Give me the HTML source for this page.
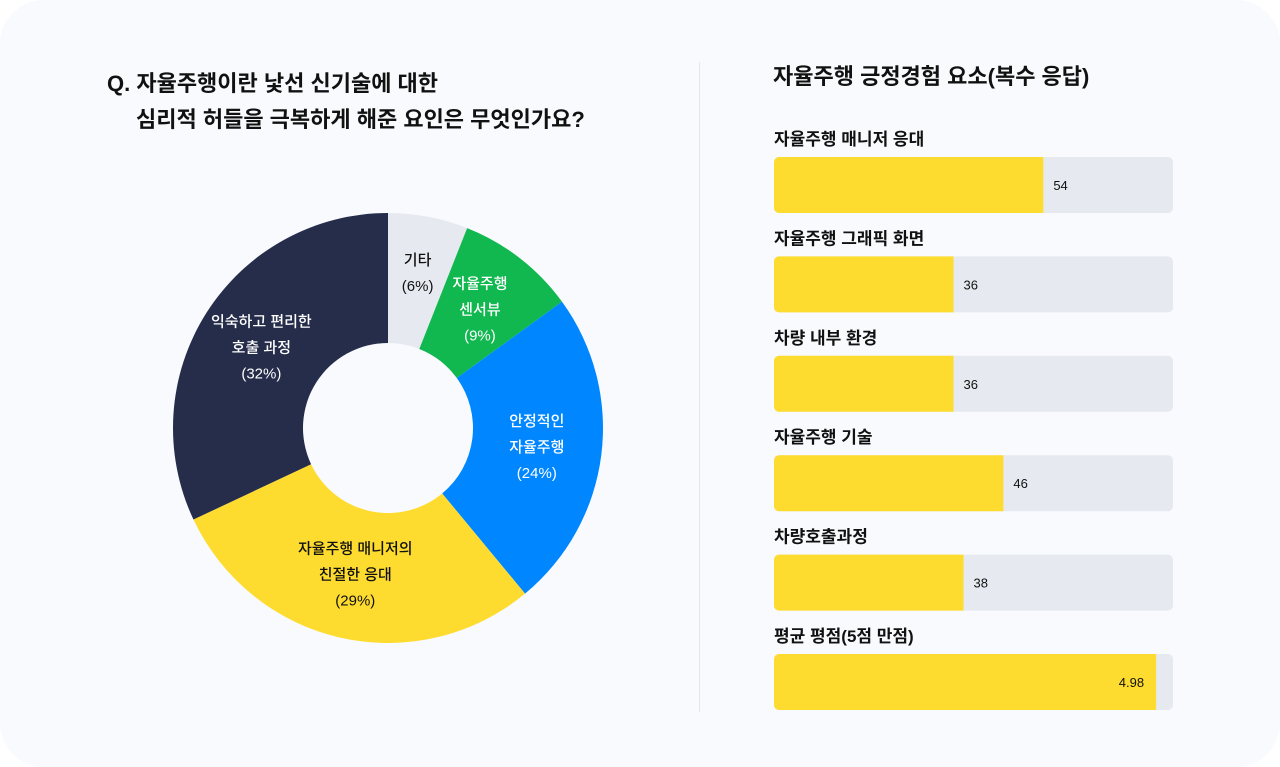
<!DOCTYPE html>
<html><head><meta charset="utf-8">
<style>
html,body{margin:0;padding:0;background:#fff;}
body{width:1280px;height:767px;position:relative;overflow:hidden;font-family:"Liberation Sans","Noto Sans CJK KR",sans-serif;}
.card{position:absolute;left:0;top:0;width:1280px;height:767px;background:#f8fafd;border-radius:44px;}
.t{position:absolute;color:#111;font-weight:700;white-space:nowrap;}
.div{position:absolute;left:699px;top:62px;width:1px;height:650px;background:#e3e6ec;}
svg text{font-family:"Liberation Sans","Noto Sans CJK KR",sans-serif;}
</style></head><body>
<div class="card"></div>
<div class="t" style="left:107px;top:66px;font-size:22px;">Q. 자율주행이란 낯선 신기술에 대한</div>
<div class="t" style="left:136px;top:102px;font-size:22px;">심리적 허들을 극복하게 해준 요인은 무엇인가요?</div>
<div class="div"></div>
<div class="t" style="left:773px;top:59px;font-size:22px;">자율주행 긍정경험 요소(복수 응답)</div>
<svg id="donut" width="1280" height="767" style="position:absolute;left:0;top:0"></svg>
<svg id="bars" width="1280" height="767" style="position:absolute;left:0;top:0"></svg>
<script>
const sliceLabels=[["기타","(6%)"],["자율주행","센서뷰","(9%)"],["안정적인","자율주행","(24%)"],["자율주행 매니저의","친절한 응대","(29%)"],["익숙하고 편리한","호출 과정","(32%)"]];
const sliceValues=[6,9,24,29,32];
const sliceColors=["#e6eaf0","#11b74f","#0087ff","#fedc2f","#252d4a"];
const sliceTextColors=["#111","#fff","#fff","#111","#fff"];
const barLabels=["자율주행 매니저 응대","자율주행 그래픽 화면","차량 내부 환경","자율주행 기술","차량호출과정","평균 평점(5점 만점)"];
const barValues=[54,36,36,46,38,4.98];
const barMax=[80,80,80,80,80,5.2];
const NS="http://www.w3.org/2000/svg";
function mk(p,tag,attrs){const e=document.createElementNS(NS,tag);for(const k in attrs)e.setAttribute(k,attrs[k]);p.appendChild(e);return e;}
const d=document.getElementById('donut');
const cx=388,cy=428,R=215,r=85;
const total=sliceValues.reduce((a,b)=>a+b,0);
let a0=0;
function pt(rad,a){return [cx+rad*Math.sin(a),cy-rad*Math.cos(a)];}
sliceValues.forEach((v,i)=>{
  const a1=a0+v/total*2*Math.PI;
  const [x0,y0]=pt(R,a0),[x1,y1]=pt(R,a1),[x2,y2]=pt(r,a1),[x3,y3]=pt(r,a0);
  const lg=(a1-a0)>Math.PI?1:0;
  const p=mk(d,'path',{d:`M${x0},${y0}A${R},${R} 0 ${lg} 1 ${x1},${y1}L${x2},${y2}A${r},${r} 0 ${lg} 0 ${x3},${y3}Z`,fill:sliceColors[i]});
  
  
  const am=(a0+a1)/2;const lr=(R+r)/2+ (i===0?8:0);
  const [lx,ly]=pt(lr,am);
  const lines=sliceLabels[i];
  lines.forEach((s,j)=>{
    const t=mk(d,'text',{x:lx,y:ly+(j-(lines.length-1)/2)*26+5,'text-anchor':'middle','font-size':15,'font-weight':500,fill:sliceTextColors[i]});
    t.textContent=s;
    
    
  });
  a0=a1;
});
const b=document.getElementById('bars');
const bx=774,bw=399,bh=56,by0=157,step=99.4;
barLabels.forEach((lab,i)=>{
  const y=by0+i*step;
  const t=mk(b,'text',{x:bx,y:y-12,'font-size':17,'font-weight':700,fill:'#111'});
  t.textContent=lab;
  
  
  const tr=mk(b,'rect',{x:bx,y:y,width:bw,height:bh,rx:5,fill:'#e6eaf0'});
  
  
  const w=Math.min(1,barValues[i]/barMax[i])*bw;
  const f=mk(b,'path',{d:`M${bx+5},${y}H${bx+w}V${y+bh}H${bx+5}A5,5 0 0 1 ${bx},${y+bh-5}V${y+5}A5,5 0 0 1 ${bx+5},${y}Z`,fill:'#fedc2f'});
  
  
  const last=i===barLabels.length-1;
  const v=mk(b,'text',{x:last?bx+w-12:bx+w+10,y:y+bh/2+5,'font-size':13,'font-weight':500,fill:'#111','text-anchor':last?'end':'start'});
  v.textContent=String(barValues[i]);
  
  
});
</script>
</body></html>
